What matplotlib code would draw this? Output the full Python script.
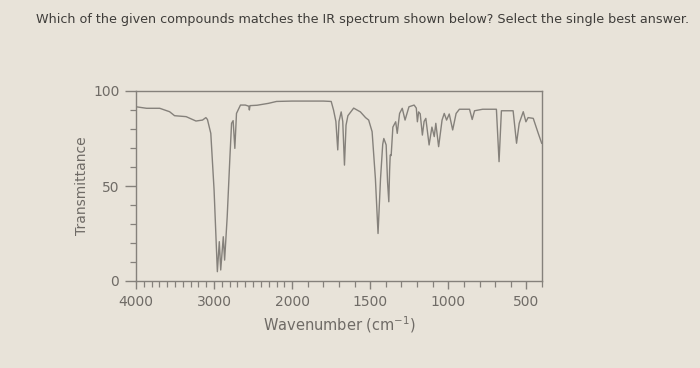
"""
IR spectrum screenshot recreation.

The wavenumber axis uses the usual two-scale IR layout: 4000-2000 cm-1
is compressed to half the width per unit of the 2000-400 region.
"""
import numpy as np
import matplotlib

matplotlib.use("Agg")
import matplotlib.pyplot as plt

QUESTION = ("Which of the given compounds matches the IR spectrum shown below? "
            "Select the single best answer.")

WAVENUMBER = [
    4000, 3865, 3696, 3570, 3506, 3358, 3232, 3148, 3105, 3085, 3042, 3000,
    2958, 2933, 2915, 2882, 2865, 2832, 2797, 2776, 2756, 2734, 2713, 2662,
    2600, 2555, 2548, 2540, 2450, 2304, 2200, 2000, 1800, 1750, 1735, 1720,
    1708, 1700, 1686, 1676, 1665, 1655, 1643, 1606, 1563, 1530, 1510, 1488,
    1467, 1450, 1434, 1420, 1413, 1404, 1398, 1389, 1381, 1376, 1372, 1366,
    1355, 1337, 1327, 1312, 1295, 1277, 1252, 1219, 1205, 1198, 1190, 1180,
    1166, 1155, 1144, 1123, 1105, 1090, 1080, 1062, 1040, 1026, 1011, 994,
    972, 950, 929, 864, 847, 832, 780, 692, 675, 660, 585, 563, 546, 520,
    503, 489, 456, 424, 402,
]
TRANSMITTANCE = [
    91.7, 90.9, 90.9, 89.1, 87.0, 86.5, 84.2, 84.7, 86.0, 85.0, 77.7, 47.9,
    4.9, 20.7, 5.8, 23.3, 11.0, 33.8, 65.4, 83.0, 84.4, 69.8, 88.2, 92.6,
    92.6, 92.0, 90.0, 92.3, 92.5, 93.5, 94.5, 94.7, 94.7, 94.5, 90.0, 84.0,
    69.0, 84.0, 89.0, 84.0, 61.0, 82.0, 87.0, 91.0, 89.0, 86.0, 84.7, 78.6,
    54.0, 25.0, 54.0, 72.0, 75.0, 73.0, 71.6, 52.0, 41.7, 58.0, 66.3, 66.0,
    81.0, 83.8, 77.7, 88.2, 90.9, 84.7, 91.7, 92.6, 91.0, 83.8, 89.0, 88.0,
    76.8, 84.0, 85.6, 71.6, 81.0, 76.0, 83.0, 70.7, 84.7, 88.2, 84.7, 87.9,
    79.5, 88.2, 90.4, 90.4, 85.0, 89.6, 90.4, 90.4, 62.8, 89.6, 89.6, 72.5,
    83.0, 89.1, 83.8, 86.0, 85.6, 77.7, 72.5,
]

X_MAJOR = [4000, 3000, 2000, 1500, 1000, 500]
Y_MAJOR = [0, 50, 100]

BG = "#e8e3d9"
INK = "#6f6b66"
LINE = "#85817b"


def _fwd(w):
    w = np.asarray(w, dtype=float)
    return np.where(w <= 2000, w, 2000 + (w - 2000) / 2.0)


def _inv(u):
    u = np.asarray(u, dtype=float)
    return np.where(u <= 2000, u, 2000 + (u - 2000) * 2.0)


fig = plt.figure(figsize=(7.0, 3.68), dpi=100, facecolor=BG)
ax = fig.add_axes([136 / 700, 1 - 281 / 368, 406 / 700, 190 / 368])
ax.set_facecolor(BG)

ax.set_xscale("function", functions=(_fwd, _inv))
ax.plot(WAVENUMBER, TRANSMITTANCE, color=LINE, lw=1.0)
ax.set_xlim(4000, 400)
ax.set_ylim(0, 100)

ax.set_xticks(X_MAJOR)
ax.set_xticklabels([str(v) for v in X_MAJOR])
ax.set_xticks(list(range(400, 4001, 100)), minor=True)
ax.set_yticks(Y_MAJOR)
ax.set_yticks(list(range(0, 101, 10)), minor=True)

for s in ax.spines.values():
    s.set_color(LINE)
    s.set_linewidth(1.0)

ax.tick_params(axis="both", which="major", direction="out", colors=LINE,
               labelcolor=INK, labelsize=10, width=1.0)
ax.tick_params(axis="x", which="major", length=6, pad=4)
ax.tick_params(axis="y", which="major", length=8, pad=4)
ax.tick_params(axis="both", which="minor", direction="out", colors=LINE,
               width=0.9, length=4)

ax.set_ylabel("Transmittance", color=INK, fontsize=10, labelpad=3)
ax.set_xlabel("Wavenumber (cm$^{-1}$)", color=INK, fontsize=10.5, labelpad=4)

fig.text(36 / 700, 1 - 20 / 368, QUESTION, fontsize=9.2, color="#3f3d3a",
         ha="left", va="center")

fig.savefig("out.png", dpi=100, facecolor=BG)
